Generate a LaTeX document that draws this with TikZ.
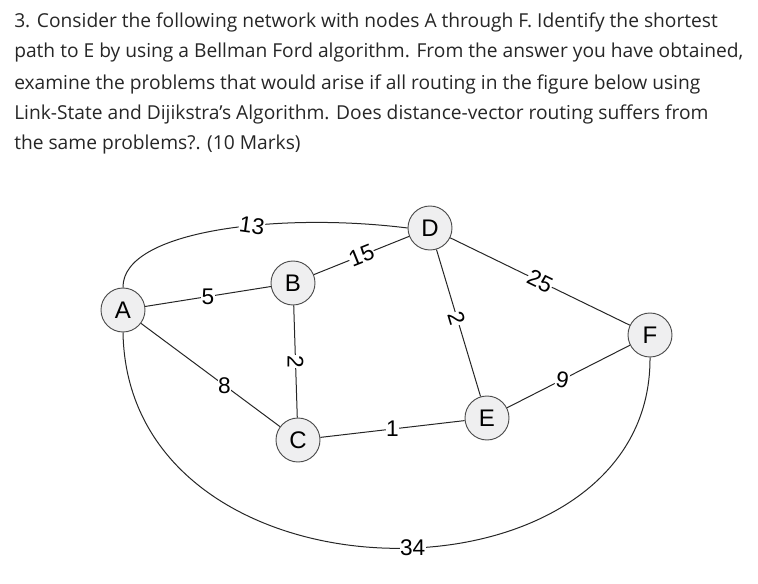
\documentclass[tikz,border=0pt]{standalone}
\usepackage{fontspec}
\setmainfont{Open Sans}
\newfontfamily\arialf{Liberation Sans}
\begin{document}
\begin{tikzpicture}[x=0.75pt,y=-0.75pt,
  vtx/.style={circle,draw=black!70,line width=0.7pt,fill=blue!5!gray!12,minimum size=33pt,inner sep=0pt,font=\arialf\fontsize{18}{18}\selectfont},
  edge/.style={draw=black!85,line width=0.75pt},
  wt/.style={fill=white,inner sep=0.3pt,font=\arialf\fontsize{17}{17}\selectfont},
  txt/.style={anchor=west,inner sep=0pt,font=\fontsize{14.4}{17}\selectfont,text=black!85}]
\useasboundingbox (0,0) rectangle (758,584);
\node[txt] (t1) at (14,22) {3. Consider the following network with nodes A through F. Identify the shortest};
\node[txt] (t2) at (14,53) {path to E by using a Bellman Ford algorithm. From the answer you have obtained,};
\node[txt] (t3) at (14,84) {examine the problems that would arise if all routing in the figure below using};
\node[txt] (t4) at (14,114) {Link-State and Dijikstra's Algorithm. Does distance-vector routing suffers from};
\node[txt] (t5) at (14,145) {the same problems?. (10 Marks)};
\node[vtx] (A) at (123,310) {A};
\node[vtx] (B) at (293,283) {B};
\node[vtx] (C) at (298,440) {C};
\node[vtx] (D) at (430,228) {D};
\node[vtx] (E) at (487,418) {E};
\node[vtx] (F) at (650,335) {F};
\draw[edge] (A) -- node[wt,pos=0.5]{5} (B);
\draw[edge] (A) -- node[wt,pos=0.6]{8} (C);
\draw[edge] (B) -- node[wt,rotate=-90]{2} (C);
\draw[edge] (B) -- node[wt,sloped,pos=0.5]{15} (D);
\draw[edge] (D) -- node[wt,sloped,pos=0.47]{2} (E);
\draw[edge] (D) -- node[wt,sloped,pos=0.5]{25} (F);
\draw[edge] (C) -- node[wt,pos=0.5]{1} (E);
\draw[edge] (E) -- node[wt,pos=0.45,rotate=-10]{9} (F);
\draw[edge] (A.north) .. controls (122,230) and (280,212) .. node[wt,pos=0.6,rotate=-8]{13} (D.west);
\draw[edge] (A.south) .. controls (128,616) and (652,616) .. node[wt,pos=0.53]{34} (F.south);
\end{tikzpicture}
\end{document}
